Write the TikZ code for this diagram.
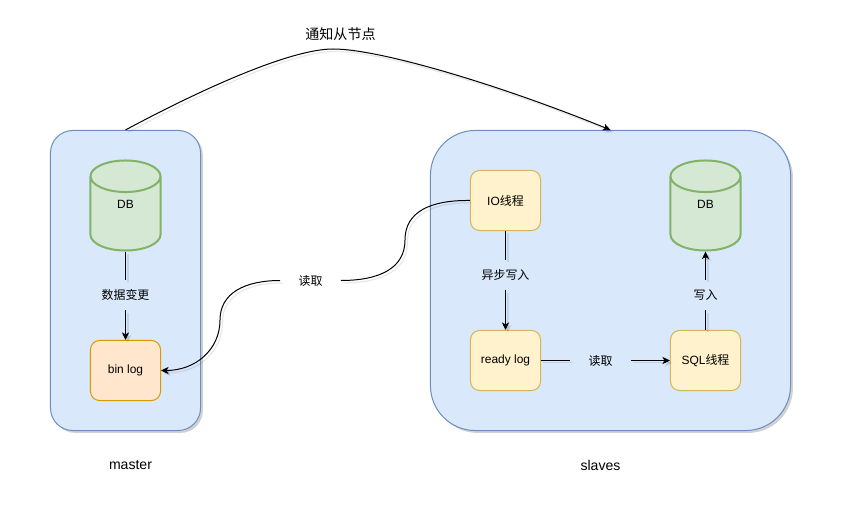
\documentclass[tikz,border=0pt]{standalone}
\usepackage{fontspec}
\setmainfont{Liberation Sans}
\newfontfamily\cjk{Noto Sans CJK SC}
\usetikzlibrary{arrows.meta,shapes.geometric,shadows}
\definecolor{groupFill}{HTML}{DAE8FC}
\definecolor{groupLine}{HTML}{6C8EBF}
\definecolor{dbFill}{HTML}{D5E8D4}
\definecolor{dbLine}{HTML}{82B366}
\definecolor{binFill}{HTML}{FFE6CC}
\definecolor{binLine}{HTML}{D79B00}
\definecolor{logFill}{HTML}{FFF2CC}
\definecolor{logLine}{HTML}{D6B656}
\tikzset{
	smallText/.style={font=\fontsize{8.5pt}{10pt}\selectfont},
	bigText/.style={font=\fontsize{10pt}{12pt}\selectfont},
	groupBox/.style={draw=groupLine, fill=groupFill, line width=0.25mm, rectangle, minimum height=7.5cm,
		drop shadow={shadow xshift=0.6mm, shadow yshift=-0.6mm, opacity=0.18, fill=black}},
	dbBox/.style={smallText, draw=dbLine, fill=dbFill, line width=0.5mm, cylinder, shape border rotate=90,
		aspect=1.9, minimum width=1.75cm, minimum height=2.25cm, inner sep=0pt, anchor=shape center},
	logBox/.style={smallText, draw=logLine, fill=logFill, line width=0.25mm, rectangle, rounded corners=2.25mm,
		minimum width=1.75cm, minimum height=1.5cm, inner sep=0pt},
	edgeText/.style={smallText, fill=groupFill, minimum width=1.5cm, minimum height=0.75cm, inner sep=0pt},
	link/.style={line width=0.25mm, preaction={draw=black, opacity=0.09, line width=0.3mm,
		transform canvas={shift={(0.6mm,-0.6mm)}}}},
	linkTip/.style={link, -{Stealth[length=1.9mm, width=1.8mm, inset=0.5mm]}}
}
\begin{document}
\begin{tikzpicture}[x=0.025cm, y=-0.025cm]
	\useasboundingbox (0,0) rectangle (851,511);

	%Groups
	\node (master) at (125.5,280.5) [groupBox, minimum width=3.75cm, rounded corners=5.6mm]{};
	\node (slaves) at (610.5,280.5) [groupBox, minimum width=9cm, rounded corners=11.2mm]{};
	\node (masterText) at (130.5,465) [bigText]{master};
	\node (slavesText) at (600.5,465) [bigText]{slaves};

	%Master blocks
	\node (masterDb) at (125.5,205.5) [dbBox]{\raisebox{1.25mm}[0pt][0pt]{DB}};
	\node (binLog) at (125.5,370.5) [logBox, fill=binFill, draw=binLine]{bin log};
	\node (changeText) at (125.5,295) [edgeText]{\cjk 数据变更};

	%Slave blocks
	\node (ioThread) at (505.5,200.5) [logBox]{IO{\cjk 线程}};
	\node (readyLog) at (505.5,360.5) [logBox]{ready log};
	\node (sqlThread) at (705.5,360.5) [logBox]{SQL{\cjk 线程}};
	\node (slaveDb) at (705.5,205.5) [dbBox]{\raisebox{1.25mm}[0pt][0pt]{DB}};
	\node (asyncText) at (505.5,275) [edgeText]{\cjk 异步写入};
	\node (readText) at (600.5,360.5) [edgeText]{\cjk 读取};
	\node (writeText) at (705.5,295) [edgeText]{\cjk 写入};

	%Label of the read link and of the notify link
	\node (pullText) at (310.5,280.5) [edgeText, fill=white]{\cjk 读取};
	\node (notifyText) at (340.5,34) [bigText]{\cjk 通知从节点};

	%Links among blocks
	\draw[link] (masterDb.south) -- (changeText.north);
	\draw[linkTip] (changeText.south) -- (binLog.north);
	\draw[link] (ioThread.south) -- (asyncText.north);
	\draw[linkTip] (asyncText.south) -- (readyLog.north);
	\draw[link] (readyLog.east) -- (readText.west);
	\draw[linkTip] (readText.east) -- (sqlThread.west);
	\draw[link] (sqlThread.north) -- (writeText.south);
	\draw[linkTip] (writeText.north) -- (slaveDb.south);

	%Curved links
	\draw[link] (ioThread.west) .. controls (430,200) and (405,212) .. (405,240) .. controls (405,268) and (380,280.5) .. (pullText.east);
	\draw[linkTip] (pullText.west) .. controls (245,280.5) and (220,293) .. (220,320) .. controls (220,350) and (195,370.5) .. (binLog.east);
	\draw[linkTip] (master.north) .. controls (200,90) and (290,49) .. (333,49) .. controls (380,49) and (500,85) .. (slaves.north);
\end{tikzpicture}
\end{document}
